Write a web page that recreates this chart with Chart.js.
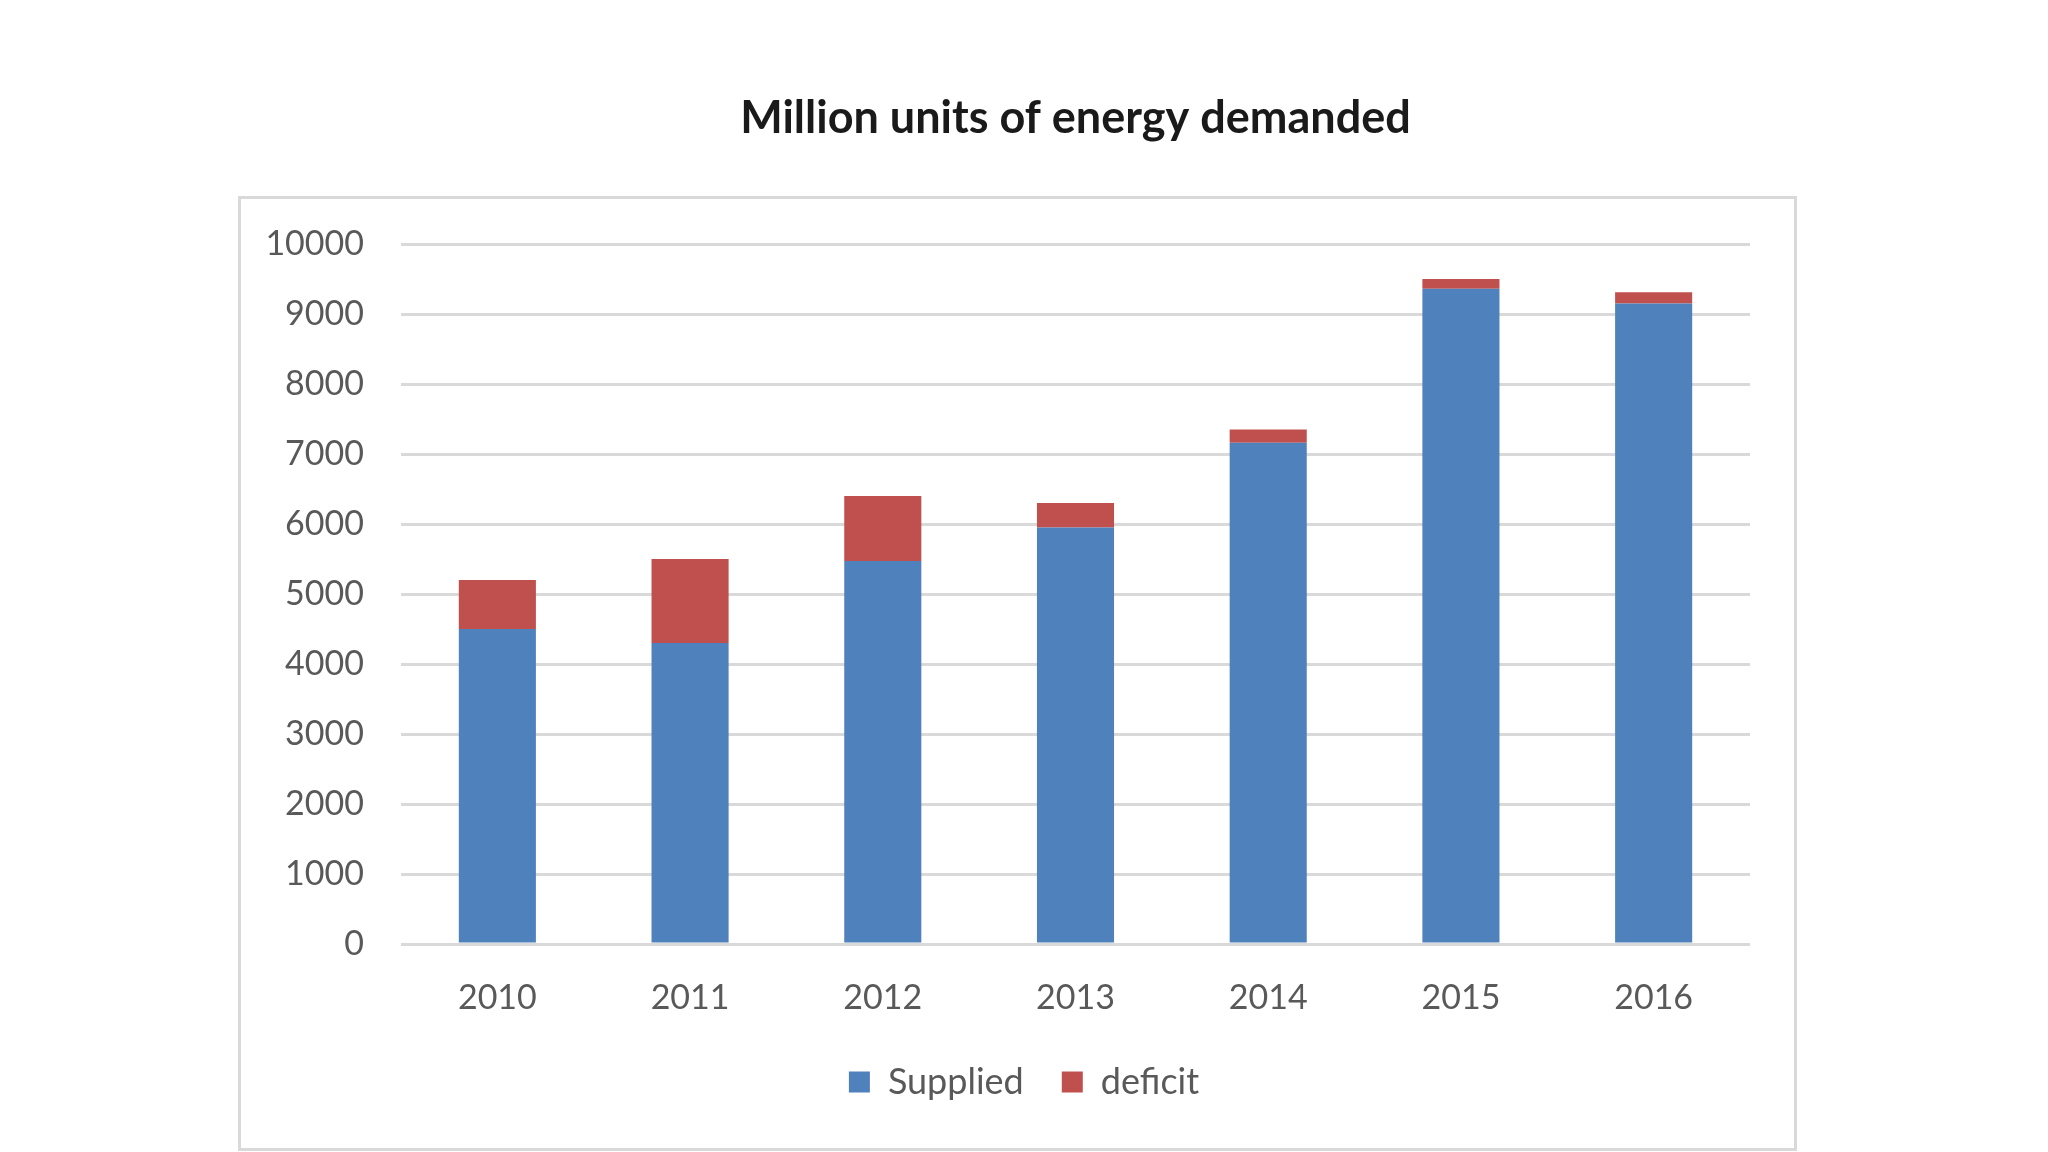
<!DOCTYPE html>
<html>
<head>
<meta charset="utf-8">
<title>Million units of energy demanded</title>
<script src="https://cdn.jsdelivr.net/npm/chart.js@4.4.1/dist/chart.umd.min.js"></script>
<style>
  body { margin: 0; background: #ffffff; }
  #wrap { position: relative; width: 2048px; height: 1152px; }
  #frame {
    position: absolute; left: 238px; top: 196px;
    width: 1553px; height: 949px;
    border: 3px solid #d9d9d9;
  }
  #chart { position: absolute; left: 0; top: 0; }
</style>
</head>
<body>
<div id="wrap">
  <div id="frame"></div>
  <canvas id="chart" width="2048" height="1152"></canvas>
</div>
<script>
// values
const years = ['2010', '2011', '2012', '2013', '2014', '2015', '2016']
const supplied = [4500, 4300, 5470, 5950, 7160, 9360, 9150]
const deficit = [700, 1200, 930, 350, 190, 140, 160]
const yTicks = [0, 1000, 2000, 3000, 4000, 5000, 6000, 7000, 8000, 9000, 10000]

const fontFamily = 'Lato, "Open Sans", sans-serif'
const tickColor = '#595959'
const gridColor = '#d9d9d9'

const ctx = document.getElementById('chart')

new Chart(ctx, {
  type: 'bar',
  data: {
    labels: years,
    datasets: [{
      label: 'Supplied',
      data: supplied,
      backgroundColor: '#4f81bd',
      barPercentage: 0.4,
      categoryPercentage: 1
    }, {
      label: 'deficit',
      data: deficit,
      backgroundColor: '#c0504d',
      barPercentage: 0.4,
      categoryPercentage: 1
    }]
  },
  options: {
    responsive: false,
    animation: false,
    devicePixelRatio: 1,
    // same padding both sides so the legend sits in the middle of the page
    layout: {
      padding: { left: 260, right: 260, top: 0, bottom: 42 }
    },
    plugins: {
      title: {
        display: true,
        fullSize: false, // centred over the plot area
        text: 'Million units of energy demanded',
        color: '#1a1a1a',
        font: { family: fontFamily, size: 45, weight: 'bold' },
        padding: { top: 91, bottom: 99 }
      },
      legend: {
        position: 'bottom',
        labels: {
          color: tickColor,
          font: { family: fontFamily, size: 36 },
          boxWidth: 21,
          boxHeight: 21,
          padding: 38
        }
      },
      tooltip: { enabled: false }
    },
    scales: {
      x: {
        stacked: true,
        grid: { display: false, drawTicks: false },
        border: { display: false },
        ticks: {
          color: tickColor,
          font: { family: fontFamily, size: 34 },
          padding: 34
        },
        afterFit: function (scale) { scale.height = 82 }
      },
      y: {
        stacked: true,
        min: 0,
        max: 10000,
        afterBuildTicks: function (scale) {
          scale.ticks = yTicks.map(v => ({ value: v }))
        },
        grid: { color: gridColor, lineWidth: 3, drawTicks: false },
        border: { display: false },
        ticks: {
          color: tickColor,
          font: { family: fontFamily, size: 34 },
          padding: 37,
          callback: function (value) { return String(value) }
        },
        afterFit: function (scale) { scale.width = 141 }
      },
      // empty right-hand axis, only keeps the right margin of the plot
      yRight: {
        position: 'right',
        min: 0,
        max: 10000,
        grid: { display: false, drawTicks: false },
        border: { display: false },
        ticks: { display: false },
        afterFit: function (scale) { scale.width = 38 }
      }
    }
  }
})
</script>
</body>
</html>
